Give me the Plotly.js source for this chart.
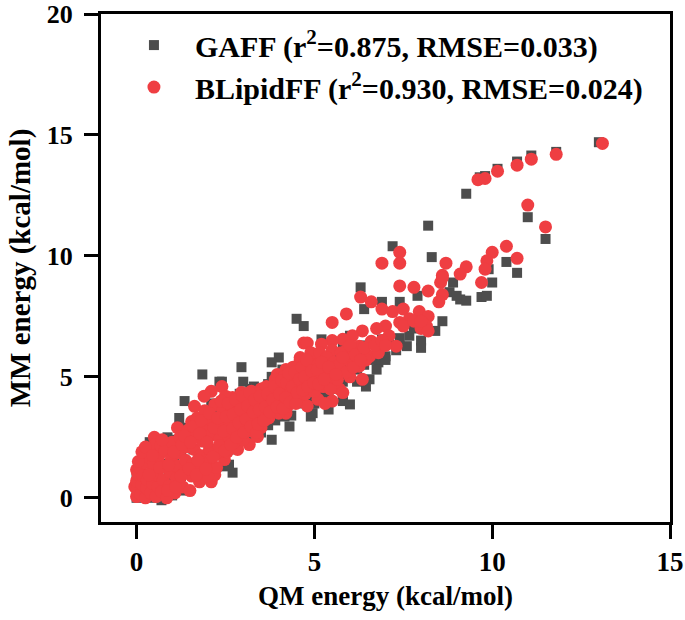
<!DOCTYPE html>
<html>
<head>
<meta charset="utf-8">
<script src="https://cdn.plot.ly/plotly-3.0.1.min.js"></script>
<style>
  html, body { margin: 0; padding: 0; background: #ffffff; }
  #plot { width: 685px; height: 620px; }
</style>
</head>
<body>
<div id="plot"></div>
<script>
// GAFF: QM vs MM energies (kcal/mol)
const gaffQM = [13.0, 11.8, 11.1, 10.7, 10.15, 9.8, 9.65, 9.27, 11.0, 11.5, 8.2, 7.2, 8.3, 10.4, 10.7, 9.9, 10.0, 9.7, 9.85, 8.8,
  9.1, 9.27, 6.3, 6.4, 6.9, 7.4, 7.9, 9.0, 8.9, 4.5, 4.7, 8.6, 8.4, 8.0, 8.0, 7.67, 7.6, 7.3, 7.0, 6.8,
  6.75, 6.55, 6.45, 6.2, 6.0, 5.2, 5.6, 5.8, 4.0, 2.95, 2.4, 3.0, 3.2, 4.16, 4.9, 5.4, 5.8, 3.8, 7.0, 6.9,
  1.85, 1.35, 3.8, 1.2, 0.87, 2.7, 3.8, 1.85, 0.37, 0.85, 2.5, 0.7, 1.0, 1.3, 2.33, 2.6, 4.3, 6.0, 4.95,
  0.0, 0.0, 0.0, 0.1, 0.1, 0.2, 0.2, 0.2, 0.3, 0.3, 0.45, 0.45, 0.45, 0.45, 0.6, 0.6, 0.6, 0.75, 0.75,
  0.9, 0.9, 0.9, 1.05, 1.05, 1.05, 1.25, 1.25, 1.4, 1.4, 1.4, 1.6, 1.6, 1.6, 1.75, 1.75, 1.95, 1.95, 1.95,
  2.1, 2.1, 2.1, 2.3, 2.3, 2.3, 2.5, 2.5, 2.5, 2.7, 2.7, 2.7, 2.9, 2.9, 2.9, 3.1, 3.1, 3.1, 3.3, 3.3, 3.3,
  3.5, 3.5, 3.5, 3.7, 3.7, 3.7, 3.9, 3.9, 4.1, 4.1, 4.1, 4.35, 4.35, 4.35, 4.6, 4.6, 4.6, 4.8, 4.8,
  5.0, 5.0, 5.0, 5.2, 5.2, 5.4, 5.4, 5.4, 5.6, 5.6, 5.8, 5.8, 5.8, 6.0, 6.0, 6.2, 6.2, 6.4, 6.4, 6.6,
  6.8, 7.1, 7.4, 7.8, 8.1];
const gaffMM = [14.7, 14.3, 14.15, 13.9, 13.6, 13.3, 13.25, 12.57, 11.6, 10.7, 11.25, 10.4, 9.95, 9.75, 9.3, 9.45, 8.9, 8.3, 8.35, 8.5,
  8.2, 8.15, 8.7, 7.8, 8.1, 8.1, 8.35, 8.35, 8.9, 7.4, 7.1, 7.3, 6.9, 6.5, 6.2, 6.7, 6.27, 6.1, 5.85, 5.6,
  5.3, 4.9, 4.6, 4.8, 6.7, 6.55, 5.9, 4.07, 5.8, 5.4, 4.8, 4.8, 4.5, 3.36, 3.36, 3.65, 4.0, 5.0, 5.7, 6.55,
  5.1, 4.0, 5.6, 3.3, 2.5, 1.04, 2.4, 1.16, 2.3, 2.3, 1.3, -0.1, 0.1, 0.3, 4.8, 1.37, 2.95, 3.86, 3.5,
  0.0, 0.4, 0.9, 0.2, 1.3, 0.1, 0.6, 1.7, 0.3, 1.0, 0.0, 0.7, 1.5, 2.0, 0.2, 1.1, 1.8, 0.5, 1.4,
  0.3, 1.0, 1.9, 0.7, 1.5, 2.4, 0.9, 1.8, 1.0, 2.2, 2.9, 1.3, 2.0, 3.1, 1.6, 2.6, 1.5, 2.3, 3.3,
  2.0, 2.9, 3.9, 1.8, 2.6, 3.5, 2.2, 3.1, 4.1, 2.0, 2.9, 3.7, 2.5, 3.3, 4.3, 2.4, 3.1, 3.9, 2.8, 3.6, 4.6,
  2.7, 3.3, 4.1, 3.0, 3.8, 4.7, 3.2, 4.3, 3.6, 4.6, 5.3, 3.4, 4.0, 4.9, 3.9, 4.5, 5.5, 4.2, 5.0,
  3.9, 4.6, 5.6, 4.3, 5.1, 4.2, 4.8, 5.8, 4.5, 5.4, 4.8, 5.7, 6.3, 5.0, 5.6, 5.3, 6.1, 5.5, 6.3, 5.7,
  6.2, 6.4, 6.6, 7.0, 7.4];

// BLipidFF
const blipQM = [13.1, 11.8, 11.1, 10.7, 10.15, 9.6, 9.8, 11.0, 11.5, 7.4, 7.4, 6.9, 8.7, 10.4, 10.7, 10.0, 9.85, 9.8, 9.7, 9.27,
  9.1, 8.6, 8.55, 8.6, 6.3, 6.6, 6.9, 7.4, 7.8, 8.2, 8.6, 8.5, 5.9, 5.5, 7.2, 7.5, 7.95, 8.2, 8.15, 7.67,
  8.0, 8.2, 7.4, 7.0, 6.75, 6.35, 6.07, 5.8, 5.5, 5.2, 4.7, 4.6, 5.05, 5.5, 5.9, 6.26, 6.6, 7.1, 7.3, 6.55,
  6.26, 6.35, 6.0, 5.7, 5.3, 4.86, 4.5, 5.2, 4.86, 5.7, 5.5, 5.1, 4.6, 4.8, 4.6, 3.5, 4.2, 3.96, 2.7, 2.4,
  3.1, 4.2, 4.8, 5.3, 5.8, 6.45, 6.8, 0.5, 0.0, 1.15, 1.63, 2.1, 1.9, 2.56, 1.55, 0.87, 0.3, 0.03, -0.05,
  1.77, 2.1, 2.2, 2.47, 2.84, 3.17, 3.4, 3.6, 3.8, 3.54, 3.23,
  0.0, 0.02, 0.0, 0.05, 0.12, 0.15, 0.1, 0.18, 0.25, 0.28, 0.22, 0.3, 0.32, 0.4, 0.42, 0.38, 0.45, 0.48, 0.52,
  0.55, 0.6, 0.58, 0.62, 0.68, 0.7, 0.75, 0.78, 0.8, 0.85, 0.92, 0.95, 0.98, 1.0, 1.08, 1.12, 1.15, 1.2, 1.22,
  1.3, 1.33, 1.38, 1.4, 1.45, 1.5, 1.55, 1.58, 1.62, 1.65, 1.7, 1.75, 1.8, 1.85, 1.88, 1.92,
  2.0, 2.02, 2.05, 2.1, 2.12, 2.2, 2.25, 2.3, 2.35, 2.4, 2.42, 2.5, 2.55, 2.6, 2.62, 2.68,
  2.75, 2.8, 2.85, 2.9, 2.95, 3.0, 3.05, 3.1, 3.15, 3.25, 3.3, 3.35, 3.4, 3.5, 3.55, 3.6, 3.65,
  3.72, 3.78, 3.85, 3.9, 4.0, 4.05, 4.1, 4.15, 4.25, 4.3, 4.35, 4.4, 4.5, 4.55, 4.6, 4.7,
  4.75, 4.8, 4.85, 4.9, 5.0, 5.05, 5.1, 5.15, 5.25, 5.3, 5.35, 5.45, 5.5, 5.55, 5.65, 5.7, 5.75,
  5.9, 5.95, 6.0, 6.1, 6.15, 6.3, 6.4, 6.7, 6.9, 7.0, 7.5, 7.8, 8.0,
  0.05, 0.15, 0.25, 0.35, 0.45, 0.65, 0.72, 0.88, 0.9, 1.05, 1.1, 1.25, 1.28, 1.35, 1.48, 1.52, 1.6, 1.68, 1.72, 1.78,
  1.82, 1.95, 1.98, 2.05, 2.15, 2.18, 2.28, 2.32, 2.38, 2.45, 2.48, 2.52, 2.58, 2.65, 2.7, 2.72, 2.78, 2.82, 2.88, 2.92,
  2.98, 3.02, 3.08, 3.12, 3.18, 3.22, 3.28, 3.32, 3.38, 3.42, 3.45, 3.48, 3.58, 3.62, 3.68, 3.75, 3.82, 3.88, 3.95, 4.02,
  4.08, 4.12, 4.2, 4.22, 4.28, 4.32, 4.38, 4.45, 4.48, 4.52, 4.58, 4.65, 4.68, 4.72, 4.78, 4.82, 4.92, 4.98, 5.08, 5.12,
  5.2, 5.28, 5.4, 5.6, 5.8];
const blipMM = [14.65, 14.2, 14.0, 13.75, 13.5, 13.15, 13.2, 12.1, 11.2, 10.15, 9.7, 9.7, 9.7, 10.4, 9.9, 10.15, 9.8, 9.45, 8.9, 9.55,
  9.25, 9.2, 8.9, 8.4, 8.3, 8.1, 7.8, 8.76, 8.7, 8.55, 9.1, 8.1, 7.6, 7.25, 7.7, 7.8, 7.7, 7.5, 7.1, 7.4,
  7.0, 6.9, 7.25, 7.1, 7.0, 6.9, 6.7, 6.55, 6.5, 6.35, 6.4, 5.8, 5.8, 6.1, 6.1, 6.27, 6.47, 6.7, 6.27, 5.85,
  5.44, 4.9, 5.0, 5.3, 5.44, 5.3, 5.0, 4.8, 4.5, 4.5, 4.0, 4.07, 4.0, 6.4, 5.7, 4.5, 5.3, 5.1, 4.15, 4.6,
  4.3, 3.5, 3.8, 3.9, 4.35, 5.7, 6.0, 2.5, 1.16, 2.9, 3.78, 4.4, 4.2, 4.15, 3.15, 2.1, 2.0, 1.04, 0.46,
  0.66, 0.66, 0.95, 1.58, 2.0, 2.2, 2.53, 3.2, 4.2, 4.5, 4.4,
  0.05, 0.35, 0.7, 0.95, 0.15, 0.55, 1.25, 0.9, 0.0, 0.4, 1.45, 0.75, 1.7, 0.2, 1.05, 1.95, 0.6, 1.4, 2.2,
  0.05, 0.45, 0.95, 1.7, 2.15, 0.25, 0.75, 1.3, 1.95, 0.0, 0.5, 1.05, 1.6, 2.3, 0.2, 0.8, 1.3, 1.85, 2.5,
  0.45, 1.0, 1.55, 2.1, 2.8, 0.3, 0.9, 1.4, 2.0, 2.6, 3.3, 1.15, 1.75, 2.35, 2.9, 3.6,
  0.9, 1.45, 2.0, 2.6, 3.2, 3.85, 1.25, 1.9, 2.45, 3.0, 3.6, 4.2, 1.9, 2.5, 3.1, 3.7,
  2.3, 2.85, 3.35, 3.9, 4.35, 2.4, 2.95, 3.5, 4.0, 2.75, 3.25, 3.8, 4.3, 2.9, 3.5, 4.0, 4.6,
  3.3, 3.8, 4.45, 4.9, 3.5, 4.0, 4.6, 5.0, 3.8, 4.35, 4.9, 5.4, 4.1, 4.6, 5.2, 5.5,
  4.3, 4.85, 5.6, 6.0, 4.4, 5.0, 5.5, 6.0, 4.6, 5.1, 5.8, 4.5, 5.0, 5.6, 4.9, 5.5, 6.0,
  5.2, 5.7, 6.3, 5.4, 5.9, 5.7, 6.2, 6.3, 6.5, 6.3, 7.1, 7.3, 7.3,
  1.5, 1.9, 2.1, 0.95, 1.75, 1.25, 2.4, 0.3, 1.35, 1.9, 0.45, 0.9, 2.2, 2.55, 1.2, 2.3, 2.95, 0.95, 1.55, 2.65,
  3.2, 1.2, 2.3, 3.5, 1.7, 2.9, 3.3, 2.15, 4.0, 2.75, 1.95, 3.35, 3.9, 2.2, 2.85, 3.45, 4.05, 2.5, 3.1, 3.65,
  4.2, 2.7, 3.25, 3.8, 4.35, 2.95, 3.55, 4.05, 2.7, 3.05, 3.65, 4.2, 3.2, 3.75, 4.3, 3.55, 4.05, 4.6, 3.75, 4.3,
  4.85, 3.7, 4.15, 4.75, 5.15, 3.95, 4.6, 5.2, 3.9, 4.35, 4.9, 5.4, 4.45, 5.0, 5.7, 4.6, 5.25, 4.75, 5.3, 4.7,
  5.6, 4.9, 5.4, 5.1, 5.8];

const serif = "Liberation Serif, Times New Roman, serif";

const traceGAFF = {
    x: gaffQM,
    y: gaffMM,
    mode: "markers",
    type: "scatter",
    name: "GAFF (r<sup>2</sup>=0.875, RMSE=0.033)",
    legendgroup: "gaff",
    marker: { symbol: "square", size: 10, color: "#4d4d4d" }
};

const traceBLipid = {
    x: blipQM,
    y: blipMM,
    mode: "markers",
    type: "scatter",
    name: "BLipidFF (r<sup>2</sup>=0.930, RMSE=0.024)",
    legendgroup: "blipid",
    marker: { symbol: "circle", size: 13, color: "#ef3e42" }
};

const axisStyle = {
    showline: true,
    mirror: true,
    linecolor: "#000",
    linewidth: 3,
    ticks: "outside",
    ticklen: 14,
    tickwidth: 3,
    tickcolor: "#000",
    showgrid: false,
    zeroline: false,
    dtick: 5,
    ticklabeloverflow: "allow"
};

const layout = {
    width: 685,
    height: 620,
    margin: { l: 101, r: 15, t: 14, b: 98 },
    paper_bgcolor: "#ffffff",
    plot_bgcolor: "#ffffff",
    font: { family: serif, color: "#000" },
    xaxis: Object.assign({}, axisStyle, {
        range: [-1, 15],
        tickfont: { family: serif, size: 27, weight: "bold", color: "#000" },
        title: { text: "QM energy (kcal/mol)", font: { family: serif, size: 27, weight: "bold", color: "#000" }, standoff: 10 }
    }),
    yaxis: Object.assign({}, axisStyle, {
        range: [-1, 20],
        ticklabelstandoff: 6,
        tickfont: { family: serif, size: 26, weight: "bold", color: "#000" },
        title: { text: "MM energy (kcal/mol)", font: { family: serif, size: 29, weight: "bold", color: "#000" }, standoff: 8 }
    }),
    showlegend: true,
    legend: {
        x: 0.021,
        y: 0.99,
        xanchor: "left",
        yanchor: "top",
        bgcolor: "rgba(0,0,0,0)",
        traceorder: "grouped",
        tracegroupgap: 0,
        itemwidth: 72,
        font: { family: serif, size: 30, weight: "bold", color: "#000" }
    }
};

Plotly.newPlot("plot", [traceGAFF, traceBLipid], layout, { displayModeBar: false, staticPlot: true });
</script>
</body>
</html>
